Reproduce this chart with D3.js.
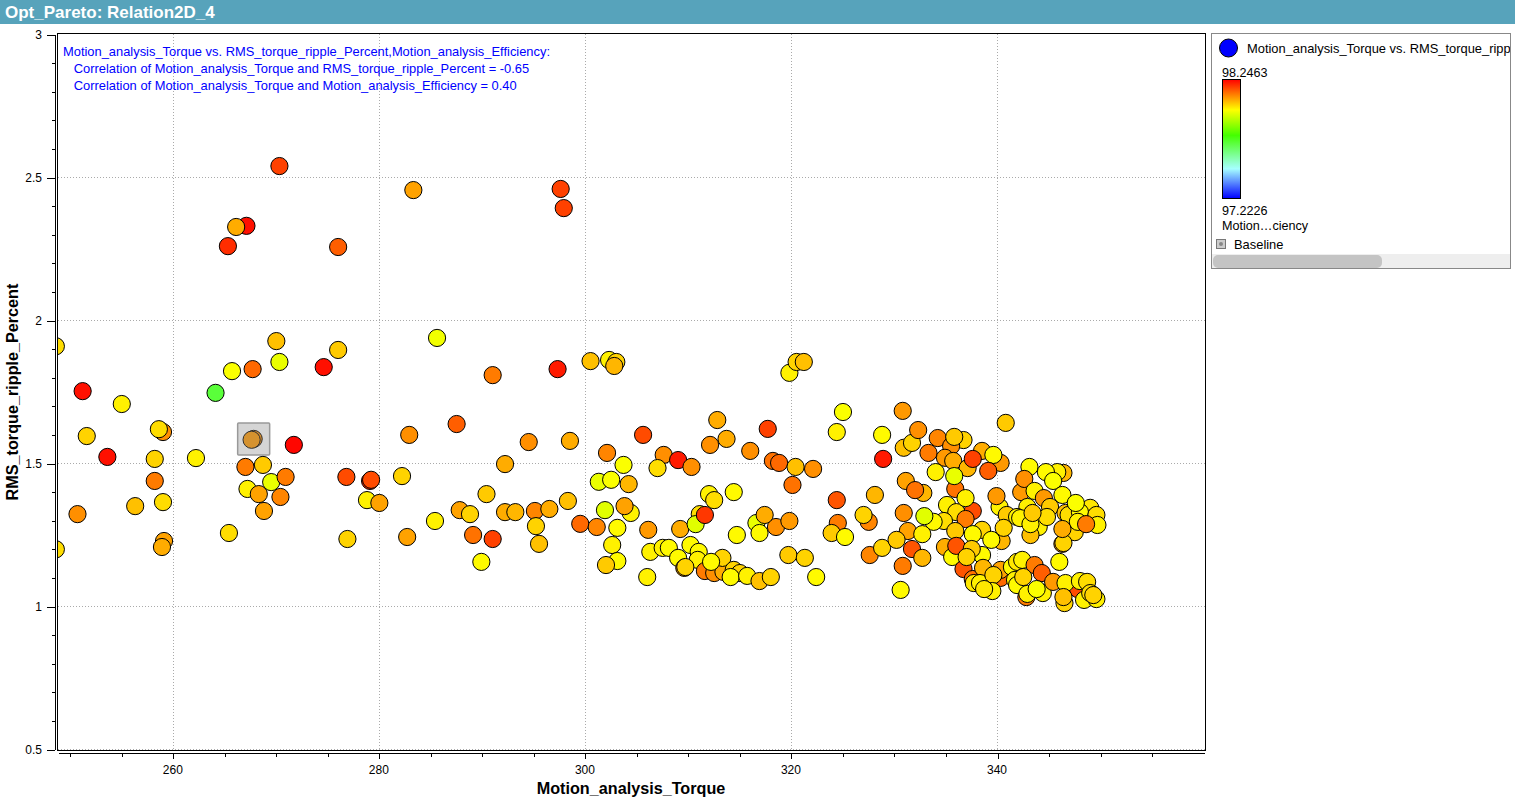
<html>
<body style="margin:0;background:#fff">
<meta charset="utf-8">
<script src="https://d3js.org/d3.v7.min.js"></script>

<div id="my_dataviz"></div>
<script>

    // values, one list per column, same order
    var torque = [
      248.6,248.6,251.2,251.6,250.7,253.6,255.0,256.3,259.0,258.6,
      258.2,258.2,259.0,259.1,258.9,262.2,264.1,265.7,265.3,267.1,
      266.1,270.3,276.0,283.3,297.6,297.9,270.0,267.7,270.3,274.6,
      276.0,285.6,291.0,297.3,300.5,302.3,303.0,302.8,271.7,267.0,
      268.7,267.2,269.5,270.9,268.3,270.4,268.8,265.4,276.8,279.1,
      279.2,278.8,280.0,276.9,282.2,282.9,282.7,287.5,285.4,287.8,
      288.8,289.1,289.9,290.4,291.0,292.2,292.2,293.2,294.5,295.1,
      296.5,295.2,295.5,298.5,298.3,299.5,301.1,302.1,312.8,305.6,
      303.7,307.6,309.0,307.0,310.3,313.7,312.1,316.0,317.7,318.2,
      318.8,320.4,322.1,320.1,324.4,325.0,324.4,327.5,327.0,324.5,
      323.9,325.2,328.1,328.9,328.8,327.6,328.8,301.9,304.4,303.8,
      304.2,301.3,302.5,303.1,306.1,302.6,303.1,302.0,306.3,306.0,
      307.5,308.1,309.2,311.1,310.7,311.6,312.0,312.5,314.4,310.2,
      309.0,311.0,310.9,309.6,309.7,311.6,312.5,313.4,313.3,312.2,
      314.4,315.0,314.1,315.7,316.9,318.0,316.6,318.5,317.4,314.7,
      316.9,319.8,319.7,321.3,322.4,319.8,320.5,321.2,330.8,330.9,
      331.7,332.3,333.3,334.2,336.7,335.5,335.8,334.9,335.7,337.1,
      340.3,338.5,339.6,337.6,339.1,340.8,334.0,335.9,335.8,331.1,
      332.8,332.0,340.2,339.9,335.1,337.6,336.0,336.9,334.8,336.9,
      333.8,332.9,330.9,331.3,332.7,330.2,331.7,332.7,330.8,330.6,
      335.9,338.5,337.6,340.9,340.4,340.6,339.4,334.9,335.6,336.0,
      338.5,337.5,336.7,337.0,337.6,340.3,340.3,338.6,337.7,338.3,
      339.6,339.5,338.7,342.3,343.1,342.6,346.4,345.8,344.7,345.4,
      343.6,346.3,344.5,345.1,342.9,341.9,342.2,344.0,343.2,343.2,
      344.8,343.4,346.6,346.9,349.0,348.0,347.6,349.6,349.7,347.5,
      347.8,346.3,346.4,346.3,348.6,346.0,341.4,341.9,342.4,343.6,
      344.3,341.7,341.9,342.8,344.4,342.9,342.5,343.8,347.8,345.4,
      346.5,346.6,348.0,348.7,346.4,348.4,349.6,349.0,349.3
    ];
    var ripple = [
      1.91,1.20,1.753,1.596,1.323,1.523,1.708,1.351,1.610,1.62,
      1.516,1.439,1.365,1.229,1.208,1.519,1.747,1.823,2.26,2.331,
      2.327,2.54,2.257,2.456,2.46,2.393,1.928,1.830,1.855,1.837,
      1.897,1.939,1.809,1.830,1.858,1.862,1.855,1.841,1.565,1.488,
      1.495,1.411,1.435,1.453,1.393,1.383,1.334,1.257,1.453,1.439,
      1.443,1.372,1.362,1.236,1.456,1.600,1.243,1.638,1.299,1.337,
      1.323,1.25,1.156,1.393,1.236,1.498,1.33,1.33,1.575,1.334,
      1.341,1.281,1.219,1.579,1.369,1.289,1.278,1.537,1.652,1.600,
      1.495,1.53,1.512,1.484,1.488,1.586,1.565,1.544,1.621,1.509,
      1.502,1.488,1.481,1.425,1.61,1.68,1.372,1.296,1.32,1.292,
      1.257,1.243,1.39,1.516,1.6,1.18,1.205,1.337,1.327,1.351,
      1.428,1.436,1.443,1.275,1.268,1.215,1.159,1.145,1.191,1.103,
      1.205,1.205,1.271,1.323,1.288,1.32,1.393,1.372,1.40,1.215,
      1.17,1.191,1.163,1.135,1.138,1.124,1.117,1.121,1.17,1.156,
      1.128,1.117,1.103,1.107,1.089,1.103,1.292,1.278,1.32,1.25,
      1.257,1.299,1.18,1.17,1.103,1.817,1.855,1.855,1.684,1.555,
      1.572,1.617,1.537,1.589,1.582,1.561,1.593,1.52,1.509,1.484,
      1.502,1.544,1.53,1.516,1.474,1.642,1.47,1.411,1.456,1.439,
      1.397,1.407,1.348,1.386,1.355,1.334,1.33,1.379,1.299,1.306,
      1.296,1.316,1.327,1.264,1.253,1.233,1.201,1.17,1.142,1.058,
      1.264,1.268,1.253,1.32,1.229,1.275,1.233,1.208,1.173,1.212,
      1.18,1.201,1.131,1.173,1.096,1.10,1.128,1.135,1.082,1.082,
      1.11,1.054,1.061,1.40,1.488,1.446,1.467,1.47,1.47,1.439,
      1.404,1.39,1.379,1.348,1.348,1.313,1.309,1.278,1.25,1.288,
      1.313,1.327,1.327,1.32,1.345,1.33,1.362,1.32,1.285,1.26,
      1.296,1.219,1.222,1.271,1.288,1.156,1.138,1.156,1.163,1.145,
      1.117,1.093,1.075,1.033,1.047,1.044,1.103,1.061,1.061,1.086,
      1.012,1.082,1.089,1.086,1.033,1.023,1.026,1.047,1.04
    ];
    var efficiency = [
      98.02,98.02,98.23,98.03,98.10,98.23,98.0,98.05,98.1,98.02,
      98.03,98.12,98.02,98.08,98.07,98.0,97.70,97.98,98.2,98.23,
      98.07,98.18,98.15,98.08,98.18,98.18,98.05,98.14,97.96,98.23,
      98.04,97.97,98.12,98.22,98.05,98.0,98.03,98.06,98.24,98.12,
      98.04,98.0,97.96,98.12,98.08,98.11,98.08,98.02,98.17,98.21,
      98.17,98.0,98.08,98.03,98.03,98.1,98.08,98.15,98.0,98.08,
      98.03,98.13,97.99,98.04,98.18,98.07,98.07,98.06,98.1,98.11,
      98.07,98.03,98.05,98.07,98.05,98.14,98.11,98.11,98.07,98.17,
      97.98,98.1,98.22,98.02,98.1,98.07,98.1,98.1,98.18,98.13,
      98.14,98.05,98.1,98.13,98.0,97.98,98.16,98.11,98.03,98.12,
      98.04,97.99,98.06,98.22,97.99,98.11,98.03,97.95,98.0,98.08,
      98.06,97.96,97.98,97.99,98.09,98.0,97.99,98.04,98.0,98.0,
      98.0,97.99,98.07,98.02,97.95,98.19,98.0,98.02,97.99,97.99,
      97.99,97.99,98.0,98.08,98.03,98.12,98.1,98.07,98.03,97.99,
      98.03,98.03,97.99,98.0,98.05,98.03,97.96,98.1,98.07,97.99,
      97.99,98.09,98.04,98.03,97.99,98.0,98.03,98.05,98.09,98.05,
      98.03,98.1,98.12,98.11,98.03,98.1,98.04,98.09,98.07,98.06,
      98.09,98.07,97.99,98.18,98.15,98.04,98.0,98.13,97.96,98.08,
      98.06,98.13,98.0,98.09,98.0,98.17,98.02,98.0,98.02,98.12,
      97.99,97.95,98.1,98.08,98.0,98.04,98.16,98.06,98.12,97.99,
      98.04,98.03,97.99,98.04,98.06,98.03,97.99,98.07,97.99,98.16,
      97.99,98.04,98.16,98.03,98.13,98.14,98.08,98.06,98.01,98.0,
      98.03,98.0,98.01,98.09,97.99,98.1,98.06,98.0,97.99,97.98,
      98.0,97.99,98.09,98.04,98.0,98.0,98.0,98.0,98.05,98.0,
      98.02,98.04,98.05,98.02,98.01,97.99,97.98,98.02,98.0,98.03,
      98.0,98.08,98.03,98.07,98.12,97.99,97.99,98.01,98.0,98.12,
      98.15,98.0,97.99,98.12,98.0,98.0,98.03,97.98,98.17,98.09,
      98.03,98.0,98.0,98.02,98.05,98.0,98.0,98.02,98.03
    ];

    // the baseline design sits under its own grey box
    var baselineTorque = [267.8, 267.6];
    var baselineRipple = [1.586, 1.583];
    var baselineEfficiency = [98.1, 98.09];

    var xMajorTicks = [260, 280, 300, 320, 340];
    var xMinorTicks = [250, 255, 265, 270, 275, 285, 290, 295, 305, 310, 315, 325, 330, 335, 345, 350, 355];
    var yMajorTicks = [0.5, 1, 1.5, 2, 2.5, 3];
    var yMinorTicks = d3.range(6, 30).filter(function(d) { return d % 5 != 0; }).map(function(d) { return d / 10; });

    var effMin = 97.2226, effMax = 98.2463;
    var rampStops = [0, 0.25, 0.53, 0.745, 1];
    var rampColors = ["#0000ff", "#a6ffff", "#44ff00", "#ffff00", "#ff0000"];

    var annotationLines = [
      "Motion_analysis_Torque vs. RMS_torque_ripple_Percent,Motion_analysis_Efficiency:",
      "   Correlation of Motion_analysis_Torque and RMS_torque_ripple_Percent = -0.65",
      "   Correlation of Motion_analysis_Torque and Motion_analysis_Efficiency = 0.40"
    ];

    var font = "Arial, 'Liberation Sans', sans-serif";

    var svg = d3.select("#my_dataviz")
      .append("svg")
        .attr("width", 1515)
        .attr("height", 802)
        .style("display", "block")
        .style("font-family", font);

    // title bar
    svg.append("rect").attr("width", 1515).attr("height", 24).attr("fill", "#57a3bb");
    svg.append("text").attr("x", 5).attr("y", 18)
      .attr("fill", "#fff").attr("font-size", 17).attr("font-weight", "bold")
      .text("Opt_Pareto: Relation2D_4");

    // scales
    var x = d3.scaleLinear().domain([260, 340]).range([173.3, 997.5]);
    var y = d3.scaleLinear().domain([0.5, 3]).range([749.5, 34.5]);
    var color = d3.scaleLinear()
      .domain(rampStops.map(function(s) { return effMin + s * (effMax - effMin); }))
      .range(rampColors);

    var plot = {left: 58, top: 34, right: 1205, bottom: 750};

    svg.append("clipPath").attr("id", "plotclip").append("rect")
      .attr("x", plot.left).attr("y", plot.top)
      .attr("width", plot.right - plot.left).attr("height", plot.bottom - plot.top);

    // grid
    var grid = svg.append("g").attr("stroke", "#aaa").attr("stroke-dasharray", "1,2").attr("shape-rendering", "crispEdges");
    xMajorTicks.forEach(function(t) {
      grid.append("line").attr("x1", x(t)).attr("x2", x(t)).attr("y1", plot.top).attr("y2", plot.bottom);
    });
    yMajorTicks.slice(0, 5).forEach(function(t) {
      grid.append("line").attr("x1", plot.left).attr("x2", plot.right).attr("y1", y(t)).attr("y2", y(t));
    });

    // axes
    function styleAxis(g) {
      g.selectAll("path,line").attr("stroke", "#000").attr("shape-rendering", "crispEdges");
      g.selectAll("text").attr("fill", "#000").style("font-family", font).style("font-size", "12px");
    }

    svg.append("g")
      .attr("transform", "translate(0,753)")
      .call(d3.axisBottom(x).tickValues(xMajorTicks).tickSize(6).tickPadding(6).tickSizeOuter(0).tickFormat(d3.format("d")))
      .call(styleAxis)
      .selectAll("text").attr("dx", -1);
    svg.append("g")
      .attr("transform", "translate(0,753)")
      .call(d3.axisBottom(x).tickValues(xMinorTicks).tickSize(4).tickFormat("").tickSizeOuter(0))
      .call(styleAxis)
      .select(".domain").attr("d", "M58.5,0.5H1205");

    svg.append("g")
      .attr("transform", "translate(55,0)")
      .call(d3.axisLeft(y).tickValues(yMajorTicks).tickSize(8).tickPadding(5).tickSizeOuter(0).tickFormat(d3.format("")))
      .call(styleAxis);
    svg.append("g")
      .attr("transform", "translate(55,0)")
      .call(d3.axisLeft(y).tickValues(yMinorTicks).tickSize(3).tickFormat("").tickSizeOuter(0))
      .call(styleAxis);

    svg.append("text").attr("x", 631).attr("y", 794)
      .attr("text-anchor", "middle").attr("font-size", 16.2).attr("font-weight", "bold")
      .text("Motion_analysis_Torque");
    svg.append("text").attr("transform", "translate(18,392) rotate(-90)")
      .attr("text-anchor", "middle").attr("font-size", 16.2).attr("font-weight", "bold")
      .text("RMS_torque_ripple_Percent");

    // points
    var dots = svg.append("g").attr("clip-path", "url(#plotclip)");

    function addDots(xs, ys, es) {
      dots.selectAll(null)
        .data(xs.map(function(d, i) { return {x: d, y: ys[i], e: es[i]}; }))
        .enter()
        .append("circle")
          .attr("cx", function(d) { return x(d.x); })
          .attr("cy", function(d) { return y(d.y); })
          .attr("r", 8.6)
          .attr("fill", function(d) { return color(d.e); })
          .attr("stroke", "#000")
          .attr("stroke-width", 1);
    }

    addDots(baselineTorque, baselineRipple, baselineEfficiency);
    dots.append("rect")
      .attr("x", x(baselineTorque[0]) - 16).attr("y", y(baselineRipple[0]) - 16)
      .attr("width", 32).attr("height", 32).attr("rx", 1)
      .attr("fill", "#888").attr("fill-opacity", 0.35)
      .attr("stroke", "#999").attr("stroke-width", 1.5);
    addDots(torque, ripple, efficiency);

    // plot frame
    svg.append("rect")
      .attr("x", plot.left - 0.5).attr("y", plot.top - 0.5)
      .attr("width", plot.right - plot.left + 1).attr("height", plot.bottom - plot.top + 1)
      .attr("fill", "none").attr("stroke", "#000").attr("shape-rendering", "crispEdges");

    // annotation
    svg.append("g").selectAll("text")
      .data(annotationLines)
      .enter()
      .append("text")
        .attr("x", 63)
        .attr("y", function(d, i) { return 56 + i * 17; })
        .attr("fill", "#0000ff")
        .attr("font-size", 12.9)
        .attr("xml:space", "preserve")
        .style("white-space", "pre")
        .text(function(d) { return d; });

    // legend
    var legend = svg.append("g");
    legend.append("rect").attr("x", 1211.5).attr("y", 33.5).attr("width", 299).attr("height", 235)
      .attr("fill", "#fff").attr("stroke", "#888");
    legend.append("circle").attr("cx", 1228.5).attr("cy", 48).attr("r", 9)
      .attr("fill", "#0000ff").attr("stroke", "#000");

    svg.append("clipPath").attr("id", "legendclip").append("rect")
      .attr("x", 1212).attr("y", 34).attr("width", 298).attr("height", 234);
    legend.append("text").attr("x", 1247).attr("y", 53).attr("font-size", 12.9)
      .attr("clip-path", "url(#legendclip)")
      .text("Motion_analysis_Torque vs. RMS_torque_ripple_Percent");

    var grad = svg.append("defs").append("linearGradient").attr("id", "ramp")
      .attr("x1", 0).attr("y1", 1).attr("x2", 0).attr("y2", 0);
    rampStops.forEach(function(s, i) {
      grad.append("stop").attr("offset", s).attr("stop-color", rampColors[i]);
    });

    legend.append("rect").attr("x", 1222.5).attr("y", 79.5).attr("width", 18).attr("height", 119)
      .attr("fill", "url(#ramp)").attr("stroke", "#000");
    legend.append("text").attr("x", 1222).attr("y", 77).attr("font-size", 12.6).text(effMax.toFixed(4));
    legend.append("text").attr("x", 1222).attr("y", 215).attr("font-size", 12.6).text(effMin.toFixed(4));
    legend.append("text").attr("x", 1222).attr("y", 230).attr("font-size", 12.6).text("Motion\u2026ciency");

    legend.append("rect").attr("x", 1216.5).attr("y", 239.5).attr("width", 9).attr("height", 9)
      .attr("fill", "#ccc").attr("stroke", "#777");
    legend.append("circle").attr("cx", 1221).attr("cy", 244).attr("r", 2).attr("fill", "#888");
    legend.append("text").attr("x", 1234).attr("y", 249).attr("font-size", 12.9).text("Baseline");

    // scrollbar
    legend.append("rect").attr("x", 1212).attr("y", 254).attr("width", 298).attr("height", 14).attr("fill", "#eee");
    legend.append("rect").attr("x", 1213).attr("y", 255).attr("width", 169).attr("height", 13).attr("rx", 5)
      .attr("fill", "#c4c4c4");

</script>
</body>
</html>
